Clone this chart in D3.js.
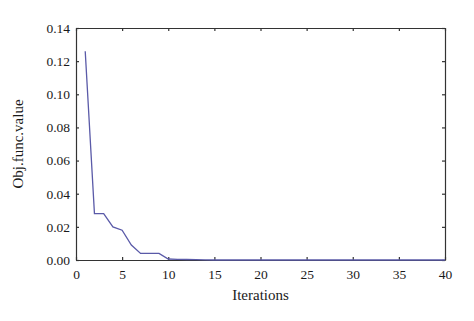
<!DOCTYPE html>
<html>
<head>
<meta charset="utf-8">
<script src="https://cdn.jsdelivr.net/npm/d3@7"></script>
<style>
  body { margin: 0; background: #fff; }
  text { font-family: "Liberation Serif", "DejaVu Serif", serif; fill: #1a1a1a; }
</style>
</head>
<body>
<div id="chart"></div>
<script>
// objective value per iteration
const iterations = d3.range(1, 41);
const objValues = [0.126, 0.028, 0.028, 0.020, 0.018, 0.009, 0.004, 0.004, 0.004, 0.0006,
    0.0004, 0.0003, 0.0002, 0.0001, 0, 0, 0, 0, 0, 0,
    0, 0, 0, 0, 0, 0, 0, 0, 0, 0,
    0, 0, 0, 0, 0, 0, 0, 0, 0, 0];
const xTicks = [0, 5, 10, 15, 20, 25, 30, 35, 40];
const yTicks = [0, 0.02, 0.04, 0.06, 0.08, 0.10, 0.12, 0.14];

const width = 474, height = 321;
const margin = {top: 28, right: 29, bottom: 61, left: 76};

const svg = d3.select("#chart")
    .append("svg")
    .attr("width", width)
    .attr("height", height);

let xScale = d3.scaleLinear()
    .domain([0, 40])
    .range([margin.left, width - margin.right]);

let yScale = d3.scaleLinear()
    .domain([0, 0.14])
    .range([height - margin.bottom, margin.top]);

// bottom axis, ticks pointing inward
svg.append("g")
    .attr("transform", `translate(0,${height - margin.bottom})`)
    .call(d3.axisBottom(xScale).tickValues(xTicks).tickSize(-3).tickPadding(7).tickSizeOuter(0))
    .call(g => g.selectAll("text").attr("font-size", "13.5px").attr("dy", "0.9em"));

// left axis
svg.append("g")
    .attr("transform", `translate(${margin.left},0)`)
    .call(d3.axisLeft(yScale).tickValues(yTicks).tickFormat(d3.format(".2f")).tickSize(-3).tickPadding(6).tickSizeOuter(0))
    .call(g => g.selectAll("text").attr("font-size", "13.5px"));

// top and right axes, ticks only
svg.append("g")
    .attr("transform", `translate(0,${margin.top})`)
    .call(d3.axisTop(xScale).tickValues(xTicks).tickSize(-3).tickFormat("").tickSizeOuter(0));

svg.append("g")
    .attr("transform", `translate(${width - margin.right},0)`)
    .call(d3.axisRight(yScale).tickValues(yTicks).tickSize(-3).tickFormat("").tickSizeOuter(0));

svg.selectAll(".domain, .tick line").attr("stroke", "#333").attr("stroke-width", 1.2);

// the curve
const line = d3.line()
    .x((d, i) => xScale(iterations[i]))
    .y(d => yScale(d));

svg.append("path")
    .datum(objValues)
    .attr("d", line)
    .attr("fill", "none")
    .attr("stroke", "#5a5aa8")
    .attr("stroke-width", 1.3);

// axis titles
svg.append("text")
    .attr("x", xScale(20))
    .attr("y", 300)
    .attr("text-anchor", "middle")
    .attr("font-size", "15px")
    .text("Iterations");

svg.append("text")
    .attr("transform", `translate(23,${yScale(0.07)}) rotate(-90)`)
    .attr("text-anchor", "middle")
    .attr("font-size", "15px")
    .text("Obj.func.value");
</script>
</body>
</html>
